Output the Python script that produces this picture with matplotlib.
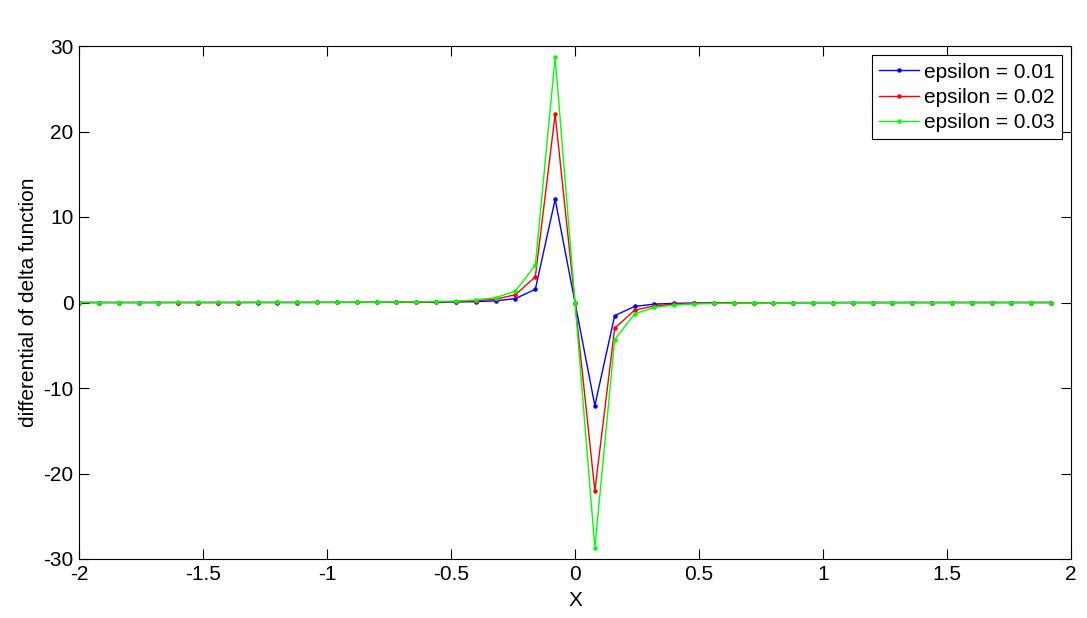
import numpy as np
import matplotlib
matplotlib.use("Agg")
import matplotlib.pyplot as plt

plt.rcParams['font.family'] = ['Liberation Sans', 'DejaVu Sans']

# x grid, step 0.08 from -2 to 1.92
x = np.arange(50) * 0.08 - 2.0

labels = ["epsilon = 0.01", "epsilon = 0.02", "epsilon = 0.03"]
colors = ["#0000ff", "#ff0000", "#00ff00"]

# values (left -> right)
y_eps1 = [0, 0, 0, 0, 0, 0, 0, 0, 0, 0, 0, 0,
          0.01, 0.01, 0.01, 0.02, 0.02, 0.03, 0.04, 0.06, 0.10, 0.19, 0.46, 1.54, 12.06,
          0,
          -12.06, -1.54, -0.46, -0.19, -0.10, -0.06, -0.04, -0.03, -0.02, -0.02, -0.01, -0.01, -0.01,
          0, 0, 0, 0, 0, 0, 0, 0, 0, 0, 0]
y_eps2 = [0, 0, 0, 0, 0, 0, 0, 0, 0,
          0.01, 0.01, 0.01, 0.01, 0.01, 0.02, 0.02, 0.03, 0.05, 0.07, 0.11, 0.20, 0.39, 0.91, 3.01, 22.03,
          0,
          -22.03, -3.01, -0.91, -0.39, -0.20, -0.11, -0.07, -0.05, -0.03, -0.02, -0.02, -0.01, -0.01,
          -0.01, -0.01, -0.01,
          0, 0, 0, 0, 0, 0, 0, 0]
y_eps3 = [0, 0, 0, 0, 0,
          0.01, 0.01, 0.01, 0.01, 0.01, 0.01, 0.01, 0.02, 0.02, 0.03, 0.04, 0.05, 0.07, 0.11, 0.17,
          0.30, 0.57, 1.34, 4.35, 28.67,
          0,
          -28.67, -4.35, -1.34, -0.57, -0.30, -0.17, -0.11, -0.07, -0.05, -0.04, -0.03, -0.02, -0.02,
          -0.01, -0.01, -0.01, -0.01, -0.01, -0.01, -0.01,
          0, 0, 0, 0]

fig = plt.figure(figsize=(10.87, 6.18), dpi=100)
ax = fig.add_axes([79 / 1087, 1 - 559 / 618, (1071 - 79) / 1087, (559 - 46) / 618])

for ys, lab, c in zip([y_eps1, y_eps2, y_eps3], labels, colors):
    ax.plot(x, ys, '.-', color=c, label=lab, linewidth=1.0, markersize=4.5)

ax.set_xlim(-2, 2)
ax.set_ylim(-30, 30)
ax.set_xticks([-2, -1.5, -1, -0.5, 0, 0.5, 1, 1.5, 2])
ax.set_xticklabels(["-2", "-1.5", "-1", "-0.5", "0", "0.5", "1", "1.5", "2"])
ax.set_yticks([-30, -20, -10, 0, 10, 20, 30])
ax.set_yticklabels(["-30", "-20", "-10", "0", "10", "20", "30"])
ax.tick_params(direction='in', length=7, width=0.8, labelsize=15, pad=4,
               top=True, right=True)
for s in ax.spines.values():
    s.set_linewidth(0.8)

ax.set_xlabel("X", fontsize=15, labelpad=5)
ax.set_ylabel("differential of delta function", fontsize=15, labelpad=4)

leg = ax.legend(loc='upper right', fontsize=15, fancybox=False, framealpha=1,
                edgecolor='black', handlelength=1.9, handletextpad=0.25,
                borderpad=0.35, labelspacing=0.3, borderaxespad=0.45)
leg.get_frame().set_linewidth(0.8)

fig.savefig("out.png", dpi=100)
